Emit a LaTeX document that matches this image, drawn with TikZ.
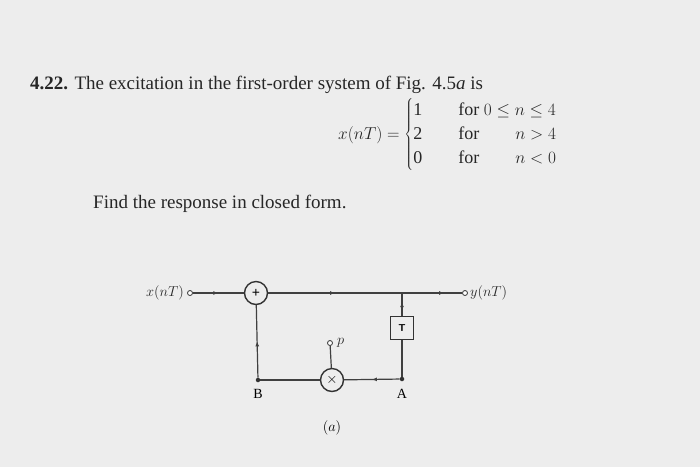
\documentclass[tikz,border=0pt]{standalone}
\usepackage{fontspec}
\setmainfont{Liberation Serif}
\usetikzlibrary{decorations.markings,arrows.meta}
\begin{document}
\begin{tikzpicture}[x=1pt,y=-1pt,
  txt/.style={inner sep=0pt,anchor=base west,text=black!85},
  ln/.style={line width=1.2pt,draw=black!75},
  mid/.style={postaction={decorate},decoration={markings,mark=at position #1 with {\arrow{Latex[length=5pt,width=4pt]}}}},
  op/.style={circle,draw=black!80,line width=1.4pt,minimum size=23pt,inner sep=0pt,font=\bfseries\Large},
  term/.style={circle,draw=black!80,line width=0.8pt,fill=white,inner sep=0pt,minimum size=5pt},
  dot/.style={circle,fill=black!80,inner sep=0pt,minimum size=4.5pt}]
\fill[black!7] (0,0) rectangle (700,467);
\useasboundingbox (0,0) rectangle (700,467);
\node[txt,font=\fontsize{19}{22}\selectfont] (t1) at (30,89) {\textbf{4.22.} The excitation in the first-order system of Fig. 4.5\textit{a} is};
\node[txt,font=\fontsize{18}{21}\selectfont] (eq) at (338,139) {\renewcommand{\arraystretch}{1.15}$x(nT)=\left\{\begin{array}{@{}l@{\qquad}l@{}}\mathrm{1} & \mathrm{for}\ 0\le n\le 4\\ \mathrm{2} & \mathrm{for}\qquad n>4\\ \mathrm{0} & \mathrm{for}\qquad n<0\end{array}\right.$};
\node[txt,font=\fontsize{19}{22}\selectfont] (t2) at (93,208) {Find the response in closed form.};
% diagram
\node[term] (in) at (190,293) {};
\node[txt,anchor=east,font=\fontsize{15}{17}\selectfont] (xl) at (184,293) {$x(nT)$};
\node[op] (add) at (256,293) {+};
\coordinate (J) at (402,293);
\node[term] (out) at (465,293) {};
\node[txt,anchor=west,font=\fontsize{15}{17}\selectfont] (yl) at (470,293) {$y(nT)$};
\node[draw=black!80,line width=1.3pt,minimum size=23pt,inner sep=0pt,font=\sffamily\bfseries] (T) at (402,328) {T};
\node[dot] (A) at (402,379) {};
\node[op] (mul) at (332,380) {$\times$};
\node[dot] (B) at (258,380) {};
\node[term] (p) at (330,343) {};
\node[txt,anchor=west,font=\fontsize{15}{17}\selectfont] (pl) at (337,343) {$p$};
\node[font=\fontsize{14}{16}\selectfont] (Al) at (402,394) {A};
\node[font=\fontsize{14}{16}\selectfont] (Bl) at (258,394) {B};
\node[font=\fontsize{15}{17}\selectfont] (cap) at (332,428) {$(a)$};
\draw[ln,mid=0.5] (in) -- (add);
\draw[ln,mid=0.5] (add) -- (J);
\draw[ln,mid=0.7] (J) -- (out);
\draw[ln,mid=0.6] (T) -- (J);
\draw[ln] (A) -- (T);
\draw[ln,mid=0.5] (A) -- (mul);
\draw[ln] (mul) -- (B);
\draw[ln,mid=0.5] (B) -- (add);
\draw[ln] (p) -- (mul);
\end{tikzpicture}
\end{document}
